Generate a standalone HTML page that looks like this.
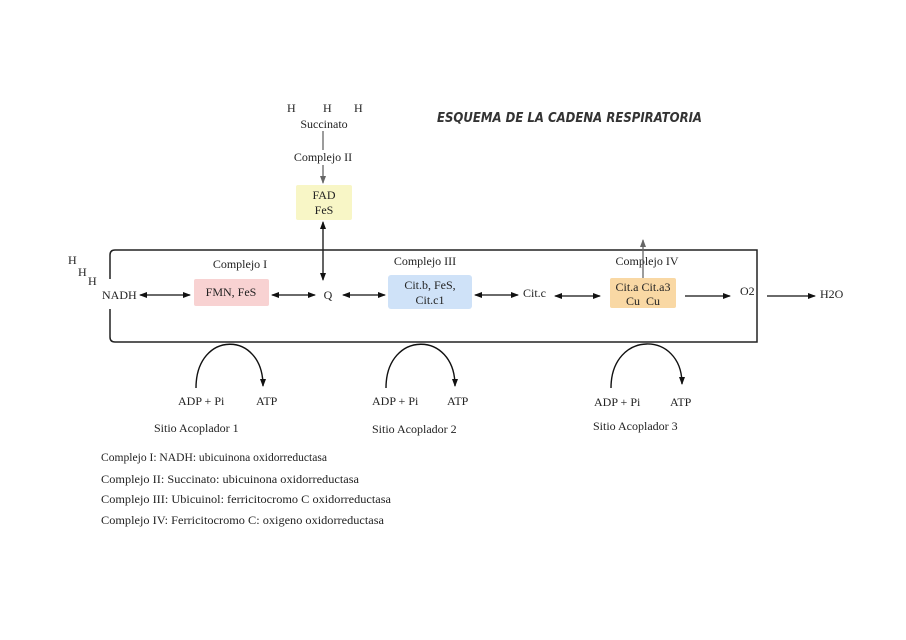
<!DOCTYPE html>
<html><head><meta charset="utf-8"><style>
html,body{margin:0;padding:0;background:#fff;}
svg{display:block;}
text{font-family:"Liberation Serif",serif;fill:#222;}
</style></head><body>
<svg width="906" height="640" viewBox="0 0 906 640" xmlns="http://www.w3.org/2000/svg">
<defs>
<marker id="ah" markerWidth="8" markerHeight="8" refX="7" refY="4" orient="auto" markerUnits="userSpaceOnUse">
<path d="M0,1 L8,4 L0,7 Z" fill="#111"/></marker>
<marker id="ahs" markerWidth="8" markerHeight="8" refX="7" refY="4" orient="auto-start-reverse" markerUnits="userSpaceOnUse">
<path d="M0,1 L8,4 L0,7 Z" fill="#111"/></marker>
<marker id="ahg" markerWidth="8" markerHeight="8" refX="7" refY="4" orient="auto" markerUnits="userSpaceOnUse">
<path d="M0,1 L8,4 L0,7 Z" fill="#666"/></marker>
</defs>

<!-- Title -->
<text x="437" y="122" font-size="13" font-style="italic" font-weight="bold" textLength="265" lengthAdjust="spacingAndGlyphs" style="font-family:'DejaVu Sans','Liberation Sans',sans-serif;fill:#333">ESQUEMA DE LA CADENA RESPIRATORIA</text>

<!-- Top: succinate -->
<text x="287" y="112" font-size="12">H</text>
<text x="323" y="112" font-size="12">H</text>
<text x="354" y="112" font-size="12">H</text>
<text x="324" y="128" font-size="12" text-anchor="middle">Succinato</text>
<line x1="323" y1="131" x2="323" y2="150" stroke="#666" stroke-width="1.3"/>
<text x="323" y="161" font-size="12" text-anchor="middle">Complejo II</text>
<line x1="323" y1="165" x2="323" y2="183" stroke="#666" stroke-width="1.3" marker-end="url(#ahg)"/>
<rect x="296" y="185" width="56" height="35" rx="2" fill="#f8f6c6"/>
<text x="324" y="199" font-size="12" text-anchor="middle">FAD</text>
<text x="324" y="214" font-size="12" text-anchor="middle">FeS</text>
<line x1="323" y1="222" x2="323" y2="280" stroke="#111" stroke-width="1.3" marker-start="url(#ahs)" marker-end="url(#ah)"/>

<!-- Main box -->
<path d="M110,279 L110,255 Q110,250 115,250 L757,250 L757,342 L115,342 Q110,342 110,337 L110,309" fill="none" stroke="#222" stroke-width="1.5"/>

<!-- Left H's -->
<text x="68" y="264" font-size="12">H</text>
<text x="78" y="276" font-size="12">H</text>
<text x="88" y="285" font-size="12">H</text>
<text x="102" y="299" font-size="12">NADH</text>
<line x1="140" y1="295" x2="190" y2="295" stroke="#111" stroke-width="1.3" marker-start="url(#ahs)" marker-end="url(#ah)"/>

<text x="240" y="268" font-size="12" text-anchor="middle">Complejo I</text>
<rect x="194" y="279" width="75" height="27" rx="2" fill="#f8d2d2"/>
<text x="231" y="296" font-size="12" text-anchor="middle">FMN, FeS</text>
<line x1="272" y1="295" x2="315" y2="295" stroke="#111" stroke-width="1.3" marker-start="url(#ahs)" marker-end="url(#ah)"/>
<text x="328" y="299" font-size="12" text-anchor="middle">Q</text>
<line x1="343" y1="295" x2="385" y2="295" stroke="#111" stroke-width="1.3" marker-start="url(#ahs)" marker-end="url(#ah)"/>

<text x="425" y="265" font-size="12" text-anchor="middle">Complejo III</text>
<rect x="388" y="275" width="84" height="34" rx="3" fill="#cfe2f8"/>
<text x="430" y="289" font-size="12" text-anchor="middle">Cit.b, FeS,</text>
<text x="430" y="304" font-size="12" text-anchor="middle">Cit.c1</text>
<line x1="475" y1="295" x2="518" y2="295" stroke="#111" stroke-width="1.3" marker-start="url(#ahs)" marker-end="url(#ah)"/>
<text x="523" y="297" font-size="12">Cit.c</text>
<line x1="555" y1="296" x2="600" y2="296" stroke="#111" stroke-width="1.3" marker-start="url(#ahs)" marker-end="url(#ah)"/>

<text x="647" y="265" font-size="12" text-anchor="middle">Complejo IV</text>
<rect x="610" y="278" width="66" height="30" rx="2" fill="#f9d8a4"/>
<text x="643" y="291" font-size="12" text-anchor="middle">Cit.a Cit.a3</text>
<text x="633" y="305" font-size="12" text-anchor="middle">Cu</text>
<text x="653" y="305" font-size="12" text-anchor="middle">Cu</text>
<line x1="643" y1="278" x2="643" y2="240" stroke="#666" stroke-width="1.3" marker-end="url(#ahg)"/>
<line x1="685" y1="296" x2="730" y2="296" stroke="#111" stroke-width="1.3" marker-end="url(#ah)"/>
<text x="740" y="295" font-size="12">O2</text>
<line x1="767" y1="296" x2="815" y2="296" stroke="#111" stroke-width="1.3" marker-end="url(#ah)"/>
<text x="820" y="298" font-size="12">H2O</text>

<!-- Arcs -->
<path d="M196,388 C196,330 263,330 263,386" fill="none" stroke="#111" stroke-width="1.4" marker-end="url(#ah)"/>
<path d="M386,388 C386,330 455,330 455,386" fill="none" stroke="#111" stroke-width="1.4" marker-end="url(#ah)"/>
<path d="M611,388 C611,330 682,330 682,384" fill="none" stroke="#111" stroke-width="1.4" marker-end="url(#ah)"/>

<text x="178" y="405" font-size="12">ADP + Pi</text>
<text x="256" y="405" font-size="12">ATP</text>
<text x="154" y="432" font-size="12">Sitio Acoplador 1</text>
<text x="372" y="405" font-size="12">ADP + Pi</text>
<text x="447" y="405" font-size="12">ATP</text>
<text x="372" y="433" font-size="12">Sitio Acoplador 2</text>
<text x="594" y="406" font-size="12">ADP + Pi</text>
<text x="670" y="406" font-size="12">ATP</text>
<text x="593" y="430" font-size="12">Sitio Acoplador 3</text>

<!-- Legend -->
<text x="101" y="461" font-size="11.5" textLength="226" lengthAdjust="spacingAndGlyphs">Complejo I: NADH: ubicuinona oxidorreductasa</text>
<text x="101" y="483" font-size="11.5" textLength="258" lengthAdjust="spacingAndGlyphs">Complejo II: Succinato: ubicuinona oxidorreductasa</text>
<text x="101" y="503" font-size="11.5" textLength="290" lengthAdjust="spacingAndGlyphs">Complejo III: Ubicuinol: ferricitocromo C oxidorreductasa</text>
<text x="101" y="524" font-size="11.5" textLength="283" lengthAdjust="spacingAndGlyphs">Complejo IV: Ferricitocromo C: oxigeno oxidorreductasa</text>
</svg>
</body></html>
